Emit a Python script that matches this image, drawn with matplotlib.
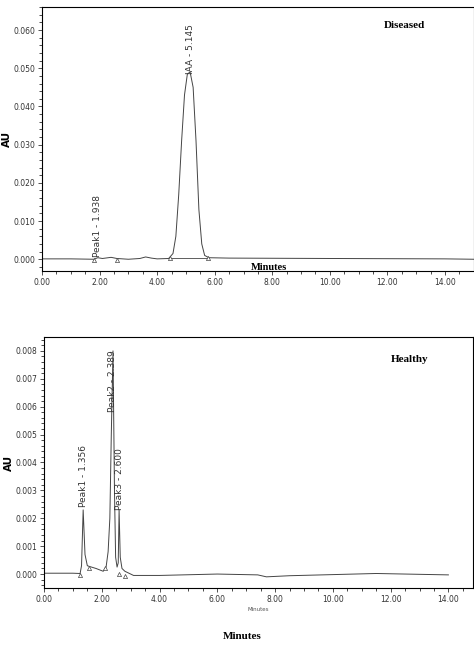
import matplotlib
matplotlib.use("Agg")
import matplotlib.pyplot as plt
from matplotlib.ticker import MultipleLocator, FormatStrFormatter

# --- Diseased trace (minutes, AU) ---
dis_t = [0, 1.0, 1.8, 1.938, 2.1, 2.4, 2.6, 3.0, 3.4, 3.6, 3.8, 4.0, 4.4, 4.55, 4.65,
         4.75, 4.85, 4.95, 5.05, 5.145, 5.25, 5.35, 5.45, 5.55, 5.65, 5.8, 6.5, 10, 14, 15]
dis_au = [0.0001, 0.0001, 0.0, 0.0004, 0.0002, 0.0005, 0.0002, 0.0, 0.0002, 0.0006, 0.0003,
          0.0001, 0.0002, 0.0015, 0.006, 0.017, 0.031, 0.043, 0.0485, 0.049, 0.045, 0.031,
          0.013, 0.004, 0.001, 0.0004, 0.0003, 0.0002, 0.0001, 0.0]
dis_marks_t = [1.8, 2.6, 4.45, 5.75]
dis_marks_au = [-0.0002, -0.0002, 0.0002, 0.0002]
dis_labels = [(1.938, 0.0006, "Peak1 - 1.938"), (5.145, 0.0485, "IAA - 5.145")]

# --- Healthy trace ---
hea_t = [0, 1.0, 1.25, 1.3, 1.356, 1.42, 1.5, 1.55, 1.8, 2.05, 2.15, 2.22, 2.28, 2.33,
         2.389, 2.44, 2.48, 2.53, 2.57, 2.6, 2.64, 2.7, 2.8, 3.1, 4.0, 6.0, 7.4, 7.7,
         8.5, 11.5, 14]
hea_au = [0.00003, 0.00003, 0.00002, 0.0003, 0.0023, 0.0007, 0.0003, 0.00028, 0.0002,
          0.0001, 0.00025, 0.0008, 0.002, 0.005, 0.008, 0.003, 0.0006, 0.00025, 0.0004,
          0.0023, 0.0006, 0.0002, 0.0001, -0.00005, -0.00005, 0.0, -0.00003, -0.0001,
          -0.00006, 0.00002, -0.00003]
hea_marks_t = [1.25, 1.55, 2.1, 2.6, 2.8]
hea_marks_au = [-0.00005, 0.0002, 0.0002, 0.0, -0.00008]
hea_labels = [(1.356, 0.0024, "Peak1 - 1.356"), (2.389, 0.0058, "Peak2 - 2.389"),
              (2.6, 0.0023, "Peak3 - 2.600")]

fig = plt.figure(figsize=(4.74, 6.47), dpi=100)
ax1 = fig.add_axes([0.0886, 0.581, 0.911, 0.408])
ax2 = fig.add_axes([0.0928, 0.0912, 0.905, 0.388])


def style(ax, ymajor, yminor, yfmt):
    ax.xaxis.set_major_locator(MultipleLocator(2))
    ax.xaxis.set_minor_locator(MultipleLocator(0.5))
    ax.xaxis.set_major_formatter(FormatStrFormatter("%.2f"))
    ax.yaxis.set_major_locator(MultipleLocator(ymajor))
    ax.yaxis.set_minor_locator(MultipleLocator(yminor))
    ax.yaxis.set_major_formatter(FormatStrFormatter(yfmt))
    ax.tick_params(labelsize=5.5, colors="#333333", length=3, width=0.6, pad=2)
    ax.tick_params(which="minor", length=2, width=0.5)
    for s in ax.spines.values():
        s.set_linewidth(0.8)
    ax.set_ylabel("AU", fontsize=7.5, fontweight="bold")
    ax.yaxis.set_label_coords(-0.07, 0.5)


ax1.plot(dis_t, dis_au, color="#444444", lw=0.7)
ax1.plot(dis_marks_t[2:], dis_marks_au[2:], color="#444444", lw=0.6)
ax1.plot(dis_marks_t, dis_marks_au, "^", ms=3, mfc="white", mec="#444444", mew=0.5)
for x, y, txt in dis_labels:
    ax1.text(x, y, txt, rotation=90, fontsize=6.5, ha="center", va="bottom", color="#333333")
ax1.set_xlim(0, 15)
ax1.set_ylim(-0.0031, 0.066)
style(ax1, 0.01, 0.002, "%.3f")
ax1.text(13.3, 0.0605, "Diseased", fontsize=8, fontweight="bold", family="Liberation Serif",
         ha="right")
ax1.text(7.9, -0.0028, "Minutes", fontsize=7.5, fontweight="bold", family="Liberation Serif",
         ha="center")

ax2.plot(hea_t, hea_au, color="#444444", lw=0.7)
ax2.plot(hea_marks_t, hea_marks_au, "^", ms=3, mfc="white", mec="#444444", mew=0.5)
for x, y, txt in hea_labels:
    ax2.text(x, y, txt, rotation=90, fontsize=6.5, ha="center", va="bottom", color="#333333")
ax2.set_xlim(0, 14.85)
ax2.set_ylim(-0.0005, 0.0085)
style(ax2, 0.001, 0.0002, "%.3f")
ax2.text(13.3, 0.0076, "Healthy", fontsize=8, fontweight="bold", family="Liberation Serif",
         ha="right")
ax2.set_xlabel("Minutes", fontsize=4, color="#555555", labelpad=2)
fig.text(0.51, 0.012, "Minutes", fontsize=8, fontweight="bold", family="Liberation Serif",
         ha="center")

fig.savefig("out.png", dpi=100)
